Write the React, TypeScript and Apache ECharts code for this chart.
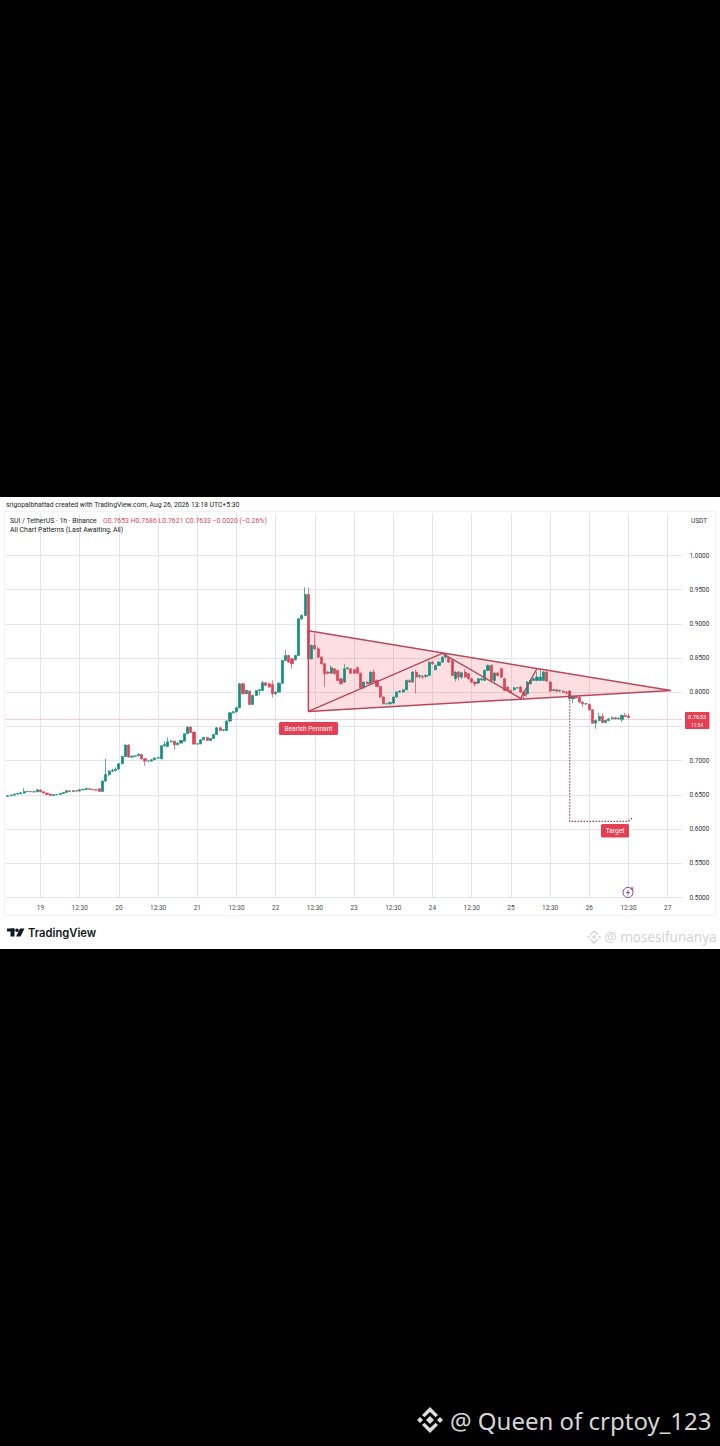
import React, { useEffect, useRef } from "react";
import * as echarts from "echarts";

// [open, close, low, high] per hourly candle
const rallyCandles = [
  [.6478,.6488,.6470,.6495],[.6488,.6497,.6482,.6505],[.6497,.6512,.6490,.6520],[.6512,.6522,.6505,.6530],
  [.6517,.6531,.6510,.6540],[.6527,.6551,.6520,.6600],[.6551,.6551,.6540,.6560],[.6551,.6546,.6538,.6558],
  [.6546,.6546,.6535,.6555],[.6546,.6575,.6540,.6582],[.6571,.6546,.6540,.6580],[.6546,.6527,.6522,.6550],
  [.6527,.6507,.6500,.6530],[.6512,.6493,.6488,.6515],[.6493,.6503,.6488,.6508],[.6503,.6507,.6498,.6512],
  [.6507,.6522,.6502,.6528],[.6522,.6536,.6516,.6540],[.6536,.6561,.6530,.6568],[.6561,.6551,.6545,.6570],
  [.6551,.6561,.6546,.6566],[.6561,.6556,.6545,.6570],[.6556,.6575,.6550,.6582],[.6575,.6580,.6565,.6590],
  [.6580,.6595,.6572,.6602],[.6590,.6580,.6572,.6596],[.6580,.6575,.6568,.6588],[.6575,.6570,.6562,.6582],
  [.6590,.6551,.6546,.6595],[.6551,.6702,.6548,.6710],[.6702,.6799,.6690,.7028],[.6799,.6848,.6775,.6860],
  [.6848,.6863,.6830,.6880],[.6858,.6877,.6845,.6900],[.6877,.6955,.6870,.6965],[.6955,.7062,.6945,.7075],
  [.7062,.7228,.7055,.7240],[.7228,.7053,.7045,.7240],[.7053,.7067,.7040,.7075],[.7067,.7072,.7050,.7085],
  [.7072,.7092,.7060,.7110],[.7092,.7028,.7015,.7100],[.7028,.6994,.6925,.7035],[.6994,.6994,.6985,.7005],
  [.6994,.7014,.6985,.7020],[.7014,.7038,.7005,.7050],[.7038,.7043,.7025,.7055],[.7028,.7218,.7020,.7230],
  [.7218,.7238,.7205,.7286],[.7208,.7277,.7195,.7340],[.7277,.7286,.7265,.7300],[.7286,.7233,.7160,.7295],
  [.7233,.7257,.7225,.7265],[.7257,.7296,.7250,.7305],[.7286,.7394,.7280,.7400],[.7394,.7491,.7388,.7500],
  [.7491,.7413,.7405,.7500],[.7418,.7243,.7235,.7425],[.7243,.7247,.7235,.7255],[.7247,.7306,.7240,.7315],
  [.7306,.7340,.7300,.7350],[.7340,.7296,.7285,.7348],[.7296,.7325,.7290,.7335],[.7325,.7384,.7318,.7392],
  [.7384,.7481,.7378,.7490],[.7481,.7442,.7435,.7490],[.7442,.7452,.7430,.7462],[.7442,.7579,.7435,.7590],
  [.7579,.7700,.7570,.7710],[.7700,.7715,.7690,.7730],[.7715,.7773,.7705,.7790],[.7773,.8124,.7765,.8135],
];

const spikeCandles = [
  [.8124,.7978,.7965,.8135],[.7978,.8027,.7970,.8040],[.8017,.7822,.7810,.8030],[.7822,.7954,.7815,.7965],
  [.7954,.8027,.7945,.8035],[.8027,.8037,.7954,.8050],[.8027,.8139,.8020,.8165],[.8139,.8100,.8090,.8150],
  [.8124,.8076,.8065,.8145],[.8115,.7978,.7920,.8175],[.7978,.8003,.7965,.8015],[.8003,.8134,.7995,.8145],
  [.8134,.8465,.8125,.8475],[.8465,.8538,.8455,.8621],[.8538,.8441,.8430,.8550],[.8490,.8417,.8345,.8500],
  [.8475,.8538,.8465,.8550],[.8538,.9074,.8530,.9085],[.9074,.9123,.9060,.9140],[.9123,.9429,.9110,.9537],
  [.9429,.8490,.8480,.9527],
];

const pennantCandles = [
  [.8490,.8684,.8475,.8700],[.8684,.8636,.8620,.8855],[.8636,.8514,.8505,.8660],[.8514,.8417,.8405,.8530],
  [.8417,.8270,.8076,.8430],[.8295,.8280,.8265,.8310],[.8280,.8358,.8270,.8392],[.8343,.8270,.8260,.8355],
  [.8319,.8173,.8160,.8330],[.8197,.8124,.8110,.8210],[.8149,.8343,.8140,.8417],[.8343,.8358,.8330,.8370],
  [.8343,.8280,.8265,.8355],[.8329,.8280,.8270,.8340],[.8358,.8280,.8270,.8380],[.8280,.8066,.8055,.8290],
  [.8066,.8149,.8055,.8160],[.8149,.8124,.8115,.8160],[.8124,.8295,.8115,.8305],[.8295,.8149,.8140,.8335],
  [.8173,.8085,.8075,.8185],[.8085,.7930,.7920,.8095],[.7930,.7832,.7825,.7940],[.7832,.7832,.7822,.7845],
  [.7832,.7852,.7820,.7865],[.7842,.7930,.7835,.7940],[.7930,.8003,.7920,.8015],[.8003,.8018,.7990,.8030],
  [.8003,.8037,.7995,.8050],[.8037,.8174,.8030,.8185],[.8174,.8149,.8140,.8190],[.8149,.8295,.8140,.8310],
  [.8295,.8222,.7979,.8330],[.8232,.8247,.8200,.8265],[.8232,.8222,.8195,.8255],[.8232,.8247,.8215,.8265],
  [.8247,.8441,.8240,.8455],[.8441,.8417,.8405,.8455],[.8329,.8393,.8320,.8405],[.8393,.8441,.8385,.8455],
  [.8441,.8514,.8435,.8530],[.8514,.8553,.8505,.8565],[.8505,.8441,.8430,.8520],[.8466,.8247,.8235,.8480],
  [.8198,.8295,.8160,.8310],[.8295,.8222,.8170,.8310],[.8222,.8285,.8195,.8300],[.8295,.8222,.8210,.8340],
  [.8271,.8198,.8185,.8285],[.8198,.8149,.8135,.8210],[.8149,.8125,.8085,.8165],[.8135,.8198,.8125,.8210],
  [.8183,.8198,.8170,.8215],[.8174,.8320,.8165,.8335],[.8320,.8393,.8310,.8405],[.8393,.8174,.8165,.8410],
  [.8174,.8281,.8120,.8295],[.8281,.8247,.8235,.8300],[.8344,.8222,.8210,.8360],[.8198,.8027,.8015,.8210],
  [.8076,.8027,.8015,.8090],[.8027,.8003,.7990,.8040],[.8037,.8066,.8025,.8080],[.8066,.8066,.8055,.8080],
  [.8076,.8003,.7990,.8090],[.8003,.7954,.7910,.8015],[.7979,.8149,.7935,.8165],[.8125,.8174,.8110,.8200],
  [.8174,.8198,.8165,.8215],[.8174,.8222,.8160,.8300],[.8174,.8222,.8165,.8345],[.8174,.8295,.8165,.8310],
  [.8295,.8164,.8150,.8320],[.8149,.8018,.8005,.8165],[.8027,.8037,.8015,.8050],[.8037,.8018,.8005,.8050],
];

const breakdownCandles = [
  [.8017,.8027,.8005,.8040],[.8017,.8002,.7990,.8030],[.8002,.7988,.7975,.8015],[.8017,.7905,.7895,.8030],
  [.7905,.7939,.7840,.7950],[.7939,.7920,.7905,.7950],[.7929,.7856,.7840,.7940],[.7856,.7832,.7790,.7870],
  [.7832,.7832,.7820,.7845],[.7822,.7744,.7730,.7835],[.7744,.7549,.7540,.7755],[.7549,.7588,.7467,.7600],
  [.7588,.7647,.7575,.7700],[.7647,.7559,.7550,.7690],[.7559,.7588,.7545,.7600],[.7588,.7613,.7575,.7625],
  [.7613,.7627,.7600,.7650],[.7627,.7613,.7600,.7640],[.7613,.7622,.7600,.7635],[.7598,.7661,.7570,.7675],
  [.7661,.7647,.7635,.7700],[.7653,.7633,.7621,.7686],
];

const priceTicks = [0.5, 0.55, 0.6, 0.65, 0.7, 0.75, 0.8, 0.85, 0.9, 0.95, 1.0];
const timeTicks = ["19","12:30","20","12:30","21","12:30","22","12:30","23","12:30","24","12:30","25","12:30","26","12:30","27"];
const FIRST_TICK_SLOT = 10;
const SLOTS_PER_TICK = 12;
const SLOT_COUNT = 207;
const TICK_HIDDEN_BY_PRICE_TAG = 0.75;

// [candle slot, price]
const pennantOutline = [[92, .890], [203, .8026], [92, .772], [92, .890]];
const patternZigzag = [[92, .772], [133, .857], [157, .791], [162, .8348]];
const targetPath = [[172, .8017], [172, .6114], [190, .6114], [191, .6158]];
const lastPrice = 0.7633;

const RED = "#dc4458";
const GREEN = "#148f7e";
const PATTERN = "#b9485c";
const GRID = "#e4e5e8";
const SANS = "Roboto, 'Noto Sans', sans-serif";

const categories = Array.from({ length: SLOT_COUNT }, (_, i) => {
  const k = (i - FIRST_TICK_SLOT) / SLOTS_PER_TICK;
  return Number.isInteger(k) && k >= 0 && k < timeTicks.length ? timeTicks[k] : "";
});
const isTick = (i: number) => categories[i] !== "";

function binanceIcon(cx: number, cy: number, s: number, fill: string) {
  const d = (x: number, y: number, r: number) => ({
    type: "polygon",
    shape: { points: [[cx + x * s, cy + (y - r) * s], [cx + (x + r) * s, cy + y * s], [cx + x * s, cy + (y + r) * s], [cx + (x - r) * s, cy + y * s]] },
    style: { fill },
  });
  const chevron = (dir: number) => ({
    type: "polygon",
    shape: {
      points: [[cx - 8 * s, cy + dir * 5 * s], [cx, cy + dir * 13 * s], [cx + 8 * s, cy + dir * 5 * s], [cx + 5.5 * s, cy + dir * 2.8 * s], [cx, cy + dir * 8 * s], [cx - 5.5 * s, cy + dir * 2.8 * s]],
    },
    style: { fill },
  });
  return [d(0, 0, 4), d(-10, 0, 3), d(10, 0, 3), chevron(-1), chevron(1)];
}

function badge(x: number, y: number, w: number, h: number, label: string) {
  return [
    { type: "rect", z: 20, shape: { x, y, width: w, height: h, r: 1.5 }, style: { fill: "#e43f52" } },
    { type: "text", z: 21, x: x + w / 2, y: y + h / 2, style: { text: label, fill: "#fff", font: `400 6.6px ${SANS}`, textAlign: "center", textVerticalAlign: "middle" } },
  ];
}

function txt(x: number, y: number, text: string, font: string, fill: string, extra: object = {}) {
  return { type: "text", z: 20, x, y, style: { text, font, fill, textVerticalAlign: "middle", ...extra } };
}

export default function App() {
  const ref = useRef<HTMLDivElement>(null);
  useEffect(() => {
    const chart = echarts.init(ref.current!, undefined, { renderer: "svg" });
    const candles = [...rallyCandles, ...spikeCandles, ...pennantCandles, ...breakdownCandles];
    const xBase = {
      type: "category",
      data: categories,
      axisTick: { show: false },
      splitLine: { show: true, interval: (i: number) => isTick(i), alignWithLabel: true, lineStyle: { color: GRID, width: 1 } },
    };
    const option: any = {
      animation: false,
      backgroundColor: "#000",
      grid: [
        { left: 6.2, top: 555.5, width: 676.2, height: 342, show: false },
        { left: 6.2, top: 513.5, width: 676.2, height: 42, show: false },
      ],
      xAxis: [
        {
          ...xBase,
          gridIndex: 0,
          axisLine: { show: true, lineStyle: { color: GRID } },
          axisLabel: { interval: (i: number) => isTick(i), fontSize: 6.5, color: "#4a4a4a", margin: 7, fontFamily: SANS },
        },
        { ...xBase, gridIndex: 1, axisLine: { show: false }, axisLabel: { show: false } },
      ],
      yAxis: [
        {
          type: "value",
          gridIndex: 0,
          position: "right",
          min: priceTicks[0],
          max: priceTicks[priceTicks.length - 1],
          interval: 0.05,
          axisLine: { show: false },
          axisTick: { show: false },
          axisLabel: {
            fontSize: 6.5,
            color: "#333",
            margin: 7,
            fontFamily: SANS,
            formatter: (v: number) => (Math.abs(v - TICK_HIDDEN_BY_PRICE_TAG) < 1e-6 ? "" : v.toFixed(4)),
          },
          splitLine: { lineStyle: { color: GRID, width: 1 } },
        },
        { type: "value", gridIndex: 1, show: false, min: 0, max: 1, splitLine: { show: false } },
      ],
      series: [
        {
          type: "custom",
          z: 1,
          silent: true,
          data: [pennantOutline[0]],
          renderItem: (_: any, api: any) => ({
            type: "polygon",
            shape: { points: pennantOutline.slice(0, 3).map((p) => api.coord(p)) },
            style: { fill: "rgba(242,54,69,0.16)" },
          }),
        },
        {
          type: "candlestick",
          z: 3,
          barWidth: 2.6,
          data: candles,
          itemStyle: { color: GREEN, color0: RED, borderColor: GREEN, borderColor0: RED, borderWidth: 0.7 },
          markLine: {
            silent: true,
            symbol: "none",
            label: { show: false },
            lineStyle: { color: "#e58b96", type: "dotted", width: 0.8 },
            data: [{ yAxis: lastPrice }],
          },
        },
        { type: "line", z: 4, data: pennantOutline, showSymbol: false, silent: true, lineStyle: { color: PATTERN, width: 1.5 } },
        { type: "line", z: 4, data: patternZigzag, showSymbol: false, silent: true, lineStyle: { color: PATTERN, width: 1.4 } },
        { type: "line", z: 4, data: targetPath, showSymbol: false, silent: true, lineStyle: { color: "#9c3048", width: 1.3, type: [1.4, 1.6] } },
      ],
      graphic: [
        { type: "rect", z: -1, shape: { x: 0, y: 497, width: 720, height: 452 }, style: { fill: "#fff" } },
        { type: "rect", z: -1, shape: { x: 4.5, y: 511.5, width: 711, height: 404 }, style: { fill: "transparent", stroke: "#f2f3f5", lineWidth: 1 } },
        txt(6, 505, "srigopalbhattad created with TradingView.com, Aug 26, 2026 13:18 UTC+5:30", `400 6.82px ${SANS}`, "#222"),
        txt(10, 520.5, "SUI / TetherUS · 1h · Binance", `400 6.85px ${SANS}`, "#222"),
        txt(103, 520.5, "O0.7653 H0.7686 L0.7621 C0.7633 −0.0020 (−0.26%)", `400 6.92px ${SANS}`, "#d64a5c"),
        txt(10, 529.5, "All Chart Patterns (Last Awaiting, All)", `400 6.92px ${SANS}`, "#222"),
        txt(691, 521, "USDT", `400 6.5px ${SANS}`, "#333"),
        ...badge(279, 722, 59, 13, "Bearish Pennant"),
        ...badge(601, 824, 28, 13.5, "Target"),
        { type: "rect", z: 20, shape: { x: 685, y: 712, width: 24.5, height: 17, r: 1 }, style: { fill: "#e43f52" } },
        txt(697, 716.5, "0.7633", `400 6px ${SANS}`, "#fff", { textAlign: "center" }),
        txt(697, 725, "11:54", `400 4.8px ${SANS}`, "#fff", { textAlign: "center" }),
        { type: "circle", z: 20, shape: { cx: 628, cy: 892.5, r: 5 }, style: { fill: "#fff", stroke: "#7b3fa0", lineWidth: 1 } },
        { type: "polygon", z: 21, shape: { points: [[629, 889], [626, 893], [628, 893], [627, 896], [630, 892], [628, 892]] }, style: { fill: "#7b3fa0" } },
        { type: "circle", z: 21, shape: { cx: 632, cy: 888.5, r: 1.3 }, style: { fill: "#e0457b" } },
        { type: "rect", z: 20, shape: { x: 7, y: 928.5, width: 7.5, height: 3 }, style: { fill: "#131722" } },
        { type: "rect", z: 20, shape: { x: 10.5, y: 928.5, width: 4, height: 8 }, style: { fill: "#131722" } },
        { type: "circle", z: 20, shape: { cx: 17, cy: 930.3, r: 1.8 }, style: { fill: "#131722" } },
        { type: "polygon", z: 20, shape: { points: [[20, 928.5], [24.5, 928.5], [20.5, 936.5], [16, 936.5]] }, style: { fill: "#131722" } },
        txt(28, 932.5, "TradingView", `600 11.2px Inter, ${SANS}`, "#131722"),
        ...binanceIcon(594, 937, 0.55, "#dcdcdc").map((e) => ({ ...e, z: 20 })),
        txt(604.5, 936, "@ mosesifunanya", `400 13.6px 'Open Sans', ${SANS}`, "#d2d2d2"),
        ...binanceIcon(430, 1420, 1, "#dddddd").map((e) => ({ ...e, z: 20 })),
        txt(450, 1420, "@ Queen of crptoy_123", "400 24px 'Noto Sans', sans-serif", "#d6d6d6"),
      ],
    };
    chart.setOption(option);
    return () => chart.dispose();
  }, []);
  return <div ref={ref} style={{ position: "absolute", left: 0, top: 0, width: 720, height: 1446, background: "#000" }} />;
}
